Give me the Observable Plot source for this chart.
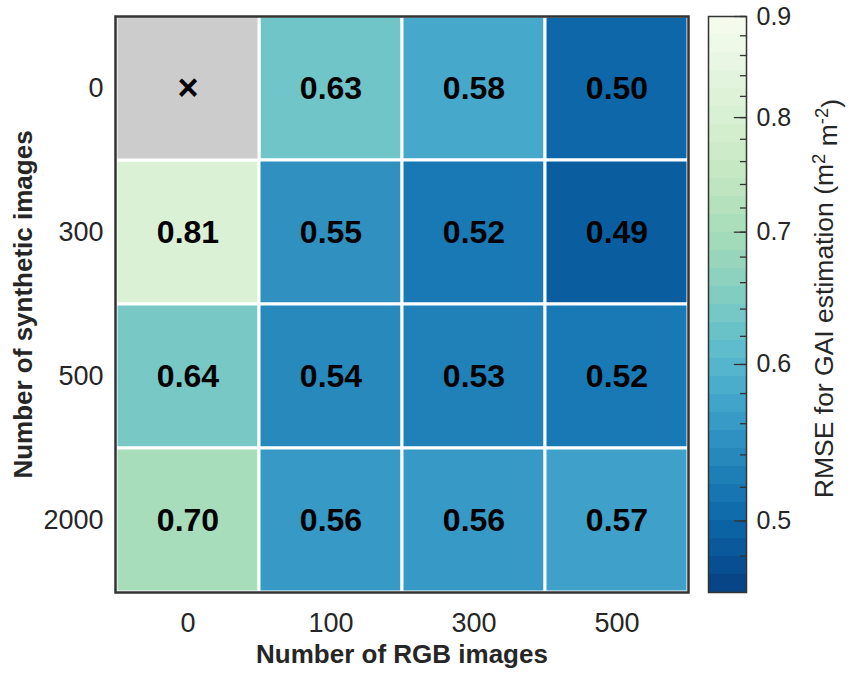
<!DOCTYPE html>
<html>
<head>
<meta charset="utf-8">
<script src="https://cdn.jsdelivr.net/npm/d3@7"></script>
<script src="https://cdn.jsdelivr.net/npm/@observablehq/plot@0.6"></script>
<style>
  html, body { margin: 0; padding: 0; background: white; }
  #wrap { display: flex; width: 865px; height: 678px; }
</style>
</head>
<body>
<div id="wrap"></div>
<script>
// ---- data ----
const rgbImages = ["0", "100", "300", "500"];
const syntheticImages = ["0", "300", "500", "2000"];
const rmseRow0 = [null, 0.63, 0.58, 0.50];
const rmseRow300 = [0.81, 0.55, 0.52, 0.49];
const rmseRow500 = [0.64, 0.54, 0.53, 0.52];
const rmseRow2000 = [0.70, 0.56, 0.56, 0.57];
const colorDomain = [0.46, 0.9];
const colorTicks = [0.5, 0.6, 0.7, 0.8, 0.9];
const colorMinorTicks = [0.48, 0.5, 0.52, 0.54, 0.56, 0.58, 0.6, 0.62, 0.64, 0.66, 0.68, 0.7, 0.72, 0.74, 0.76, 0.78, 0.8, 0.82, 0.84, 0.86, 0.88, 0.9];
const nLevels = 32;

const rows = [rmseRow0, rmseRow300, rmseRow500, rmseRow2000];
const table = [];
syntheticImages.forEach((s, i) => rgbImages.forEach((r, j) => table.push({syn: s, rgb: r, v: rows[i][j]})));
const valid = table.filter(d => d.v != null);
const missing = table.filter(d => d.v == null);

const font = "'Liberation Sans', Arial, Helvetica, sans-serif";
const colorOpts = {type: "log", domain: colorDomain, scheme: "GnBu", reverse: true};
const fmt = d3.format(".2f");

const heat = Plot.plot({
  width: 700, height: 678,
  marginLeft: 115, marginRight: 12, marginTop: 16, marginBottom: 86,
  style: {fontFamily: font, background: "white", color: "#262626"},
  x: {type: "band", domain: rgbImages, padding: 0},
  y: {type: "band", domain: syntheticImages, padding: 0},
  color: colorOpts,
  marks: [
    Plot.cell(valid, {x: "rgb", y: "syn", fill: "v", stroke: "white", strokeWidth: 3}),
    Plot.cell(missing, {x: "rgb", y: "syn", fill: "#cccccc", stroke: "white", strokeWidth: 3}),
    Plot.text(valid, {x: "rgb", y: "syn", text: d => fmt(d.v), fontSize: 32, fontWeight: "bold", fill: "black"}),
    Plot.text(missing, {x: "rgb", y: "syn", text: () => "×", fontSize: 36, fontWeight: "bold", fill: "black"}),
    Plot.frame({stroke: "#333", strokeWidth: 2.5}),
    Plot.axisX({tickSize: 0, tickPadding: 20, fontSize: 27, label: null}),
    Plot.axisY({tickSize: 0, tickPadding: 12, fontSize: 27, label: null}),
    Plot.text(["Number of RGB images"], {frameAnchor: "bottom", dy: 70, fontSize: 26, fontWeight: "bold", fill: "#262626"}),
    Plot.text(["Number of synthetic images"], {frameAnchor: "left", textAnchor: "middle", dx: -92, rotate: -90, fontSize: 26, fontWeight: "bold", fill: "#262626"})
  ]
});

// colorbar bands (log-spaced levels)
const lo = colorDomain[0], hi = colorDomain[1];
const bands = d3.range(nLevels).map(i => {
  const a = lo * Math.pow(hi / lo, i / nLevels);
  const b = lo * Math.pow(hi / lo, (i + 1) / nLevels);
  return {y1: a, y2: b, mid: Math.sqrt(a * b)};
});

const barLabel = "RMSE for GAI estimation (m2 m-2)";
const bar = Plot.plot({
  width: 165, height: 678,
  marginLeft: 8, marginRight: 119, marginTop: 16, marginBottom: 86,
  style: {fontFamily: font, background: "white", color: "#262626"},
  x: {domain: [0, 1], axis: null},
  y: {type: "log", domain: colorDomain},
  color: colorOpts,
  marks: [
    Plot.rect(bands, {x1: 0, x2: 1, y1: "y1", y2: "y2", fill: "mid"}),
    Plot.ruleY(colorMinorTicks, {x1: 0.84, x2: 1, stroke: "#333", strokeWidth: 1.3}),
    Plot.ruleY(colorTicks, {x1: 0.68, x2: 1, stroke: "#333", strokeWidth: 1.3}),
    Plot.frame({stroke: "#333", strokeWidth: 1.5}),
    Plot.axisY({anchor: "right", ticks: colorTicks, tickFormat: d3.format(".1f"), tickSize: 0, tickPadding: 10, fontSize: 25, label: null}),
    Plot.text([barLabel], {frameAnchor: "middle", dx: 97, dy: -6, rotate: -90, fontSize: 26.5, fill: "#262626"})
  ]
});

// render superscripts of the colorbar label as real tspans
d3.select(bar).selectAll("text").filter(function() { return this.textContent === barLabel; })
  .each(function() {
    const t = d3.select(this);
    t.text(null);
    t.append("tspan").text("RMSE for GAI estimation (m");
    t.append("tspan").attr("dy", "-0.45em").attr("font-size", "0.7em").text("2");
    t.append("tspan").attr("dy", "0.45em").text(" m");
    t.append("tspan").attr("dy", "-0.45em").attr("font-size", "0.7em").text("-2");
    t.append("tspan").attr("dy", "0.45em").text(")");
  });

document.getElementById("wrap").append(heat, bar);
</script>
</body>
</html>
